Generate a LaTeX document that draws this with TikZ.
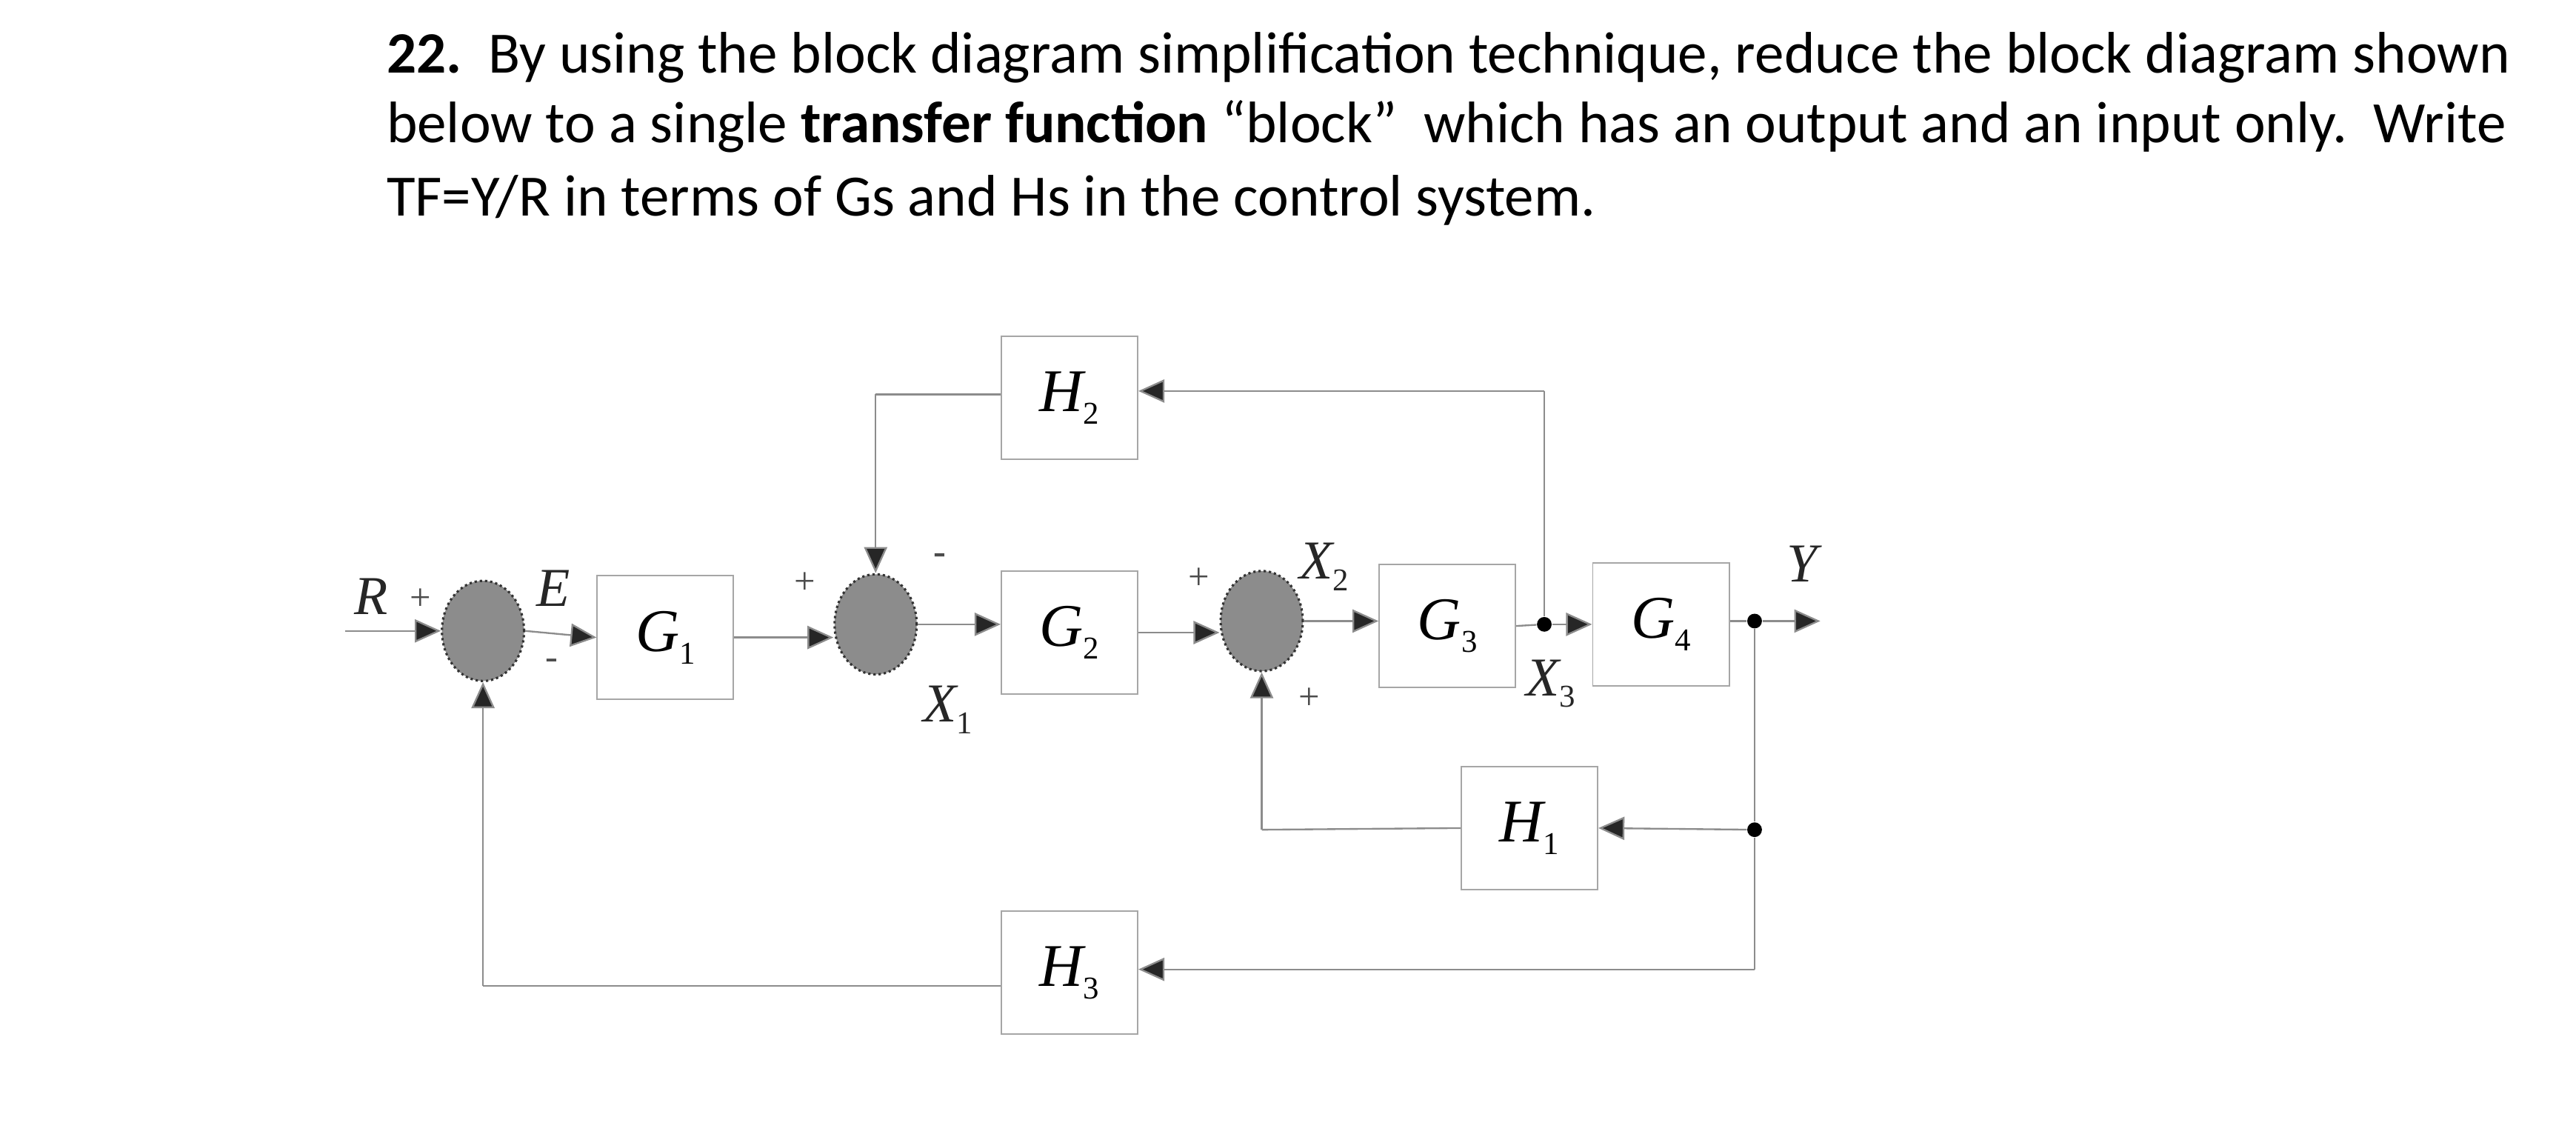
\documentclass[tikz,border=0pt]{standalone}
\usepackage{fontspec}
\setmainfont{Carlito}
\newfontfamily\lab{Liberation Serif}
\usetikzlibrary{shapes.geometric,arrows.meta}
\newcommand{\sbs}[1]{\raisebox{-0.45ex}{\upshape\fontsize{11}{11}\selectfont #1}}
\begin{document}
\begin{tikzpicture}[x=0.02cm,y=-0.02cm,
  blk/.style={draw=black!35,line width=0.5pt,minimum width=1.66cm,minimum height=1.5cm,font=\lab\itshape\fontsize{21}{21}\selectfont},
  sj/.style={ellipse,draw=black!80,fill=black!45,densely dotted,line width=0.8pt,minimum width=1.0cm,minimum height=1.22cm,inner sep=0pt},
  ln/.style={draw=black!45,line width=0.6pt},
  ar/.style={ln,-{Triangle[length=9pt,width=8pt,fill=black!85]}},
  dt/.style={circle,fill=black,inner sep=1.8pt},
  lb/.style={font=\lab\itshape\fontsize{19}{19}\selectfont,text=black!85},
  sg/.style={font=\lab\fontsize{13}{13}\selectfont,text=black!70},
  tl/.style={anchor=west,font=\fontsize{20.3}{24}\selectfont,inner sep=0pt}]
\useasboundingbox[fill=white] (0,0) rectangle (1568,692);
\node[tl] (t1) at (235,35) {\textbf{22.}\ \ By using the block diagram simplification technique, reduce the block diagram shown};
\node[tl] (t2) at (235,77) {below to a single \textbf{transfer function} “block”\ \ which has an output and an input only.\ \ Write};
\node[tl] (t3) at (235,122) {TF=Y/R in terms of Gs and Hs in the control system.};
% nodes
\node[sj] (s1) at (294,384) {};
\node[sj] (s2) at (533,380) {};
\node[sj] (s3) at (768,378) {};
\node[blk] (g1) at (405,388) {G\sbs{1}};
\node[blk] (g2) at (651,385) {G\sbs{2}};
\node[blk] (g3) at (881,381) {G\sbs{3}};
\node[blk] (g4) at (1011,380) {G\sbs{4}};
\node[blk] (h2) at (651,242) {H\sbs{2}};
\node[blk] (h1) at (931,504) {H\sbs{1}};
\node[blk] (h3) at (651,592) {H\sbs{3}};
\node[dt] (d3) at (940,380) {};
\node[dt] (dy) at (1068,378) {};
\node[dt] (dh) at (1068,505) {};
\coordinate (rin) at (210,384);
\coordinate (yout) at (1108,378);
\coordinate (c1) at (940,238);
\coordinate (c2) at (533,240);
\coordinate (c3) at (768,505);
\coordinate (c4) at (1068,590);
\coordinate (c5) at (294,600);
% connectors
\draw[ar] (rin) -- (s1.west);
\draw[ar] (s1.east) -- (g1.west);
\draw[ar] (g1.east) -- (s2.west |- g1.east);
\draw[ar] (s2.east) -- (g2.west |- s2.east);
\draw[ar] (g2.east) -- (s3.west |- g2.east);
\draw[ar] (s3.east) -- (g3.west |- s3.east);
\draw[ln] (g3.east) -- (d3);
\draw[ar] (d3) -- (g4.west |- d3);
\draw[ln] (g4.east |- dy) -- (dy);
\draw[ar] (dy) -- (yout);
\draw[ln] (d3) -- (c1);
\draw[ar] (c1) -- (h2.east |- c1);
\draw[ln] (h2.west |- c2) -- (c2);
\draw[ar] (c2) -- (s2.north);
\draw[ln] (dy) -- (dh);
\draw[ar] (dh) -- (h1.east);
\draw[ln] (h1.west) -- (c3);
\draw[ar] (c3) -- (s3.south);
\draw[ln] (dh) -- (c4);
\draw[ar] (c4) -- (h3.east |- c4);
\draw[ln] (h3.west |- c5) -- (c5);
\draw[ar] (c5) -- (s1.south);
% labels
\node[lb] (lr) at (226,363) {R};
\node[lb] (le) at (337,358) {E};
\node[lb] (lx1) at (577,432) {X\sbs{1}};
\node[lb] (lx2) at (806,345) {X\sbs{2}};
\node[lb] (lx3) at (944,416) {X\sbs{3}};
\node[lb] (ly) at (1097,343) {Y};
\node[sg] (p1) at (256,365) {+};
\node[sg] (m1) at (336,404) {-};
\node[sg] (p2) at (490,355) {+};
\node[sg] (m2) at (572,340) {\textbf{-}};
\node[sg] (p3) at (730,352) {+};
\node[sg] (p4) at (797,425) {+};
\end{tikzpicture}
\end{document}
